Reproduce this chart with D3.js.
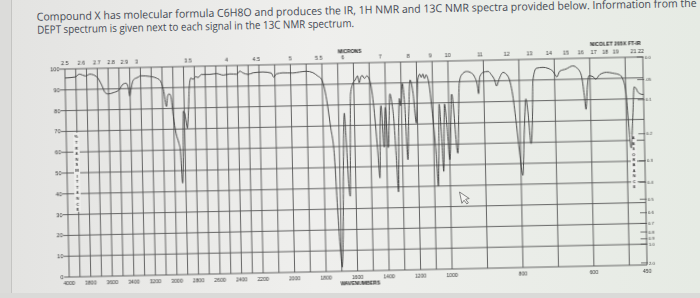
<!DOCTYPE html>
<html>
<head>
<meta charset="utf-8">
<script src="https://cdn.jsdelivr.net/npm/d3@7"></script>
<style>
  html, body { margin: 0; padding: 0; background: #e9e9e7; }
  svg { display: block; }
</style>
</head>
<body>
<svg id="chart"></svg>
<script>
// IR spectrum (wavenumber cm-1, %T)
var wavenumbers = [4000, 3907, 3867, 3809, 3769, 3707, 3661, 3630, 3605, 3553, 3503, 3460, 3435, 3414, 3404, 3392, 3367, 3321, 3300,
  3213, 3151, 3120, 3090, 3065, 3053, 3037, 3022, 3003, 2982, 2957, 2945, 2929, 2917, 2911, 2898, 2883, 2874, 2861, 2849, 2833,
  2812, 2787, 2766, 2735, 2655, 2594, 2532, 2470, 2408, 2377, 2347, 2300, 2254, 2175, 2122, 2107, 2091, 2048, 1985, 1942, 1900,
  1858, 1827, 1806, 1789, 1774, 1753, 1732, 1719, 1706, 1697, 1688, 1675, 1664, 1655, 1645, 1637, 1630, 1622, 1605, 1590, 1575,
  1565, 1555, 1546, 1531, 1516, 1499, 1478, 1457, 1446, 1436, 1430, 1415, 1404, 1389, 1372, 1360, 1351, 1340, 1330, 1320, 1313,
  1305, 1292, 1280, 1266, 1255, 1242, 1225, 1208, 1198, 1193, 1180, 1170, 1160, 1150, 1140, 1124, 1107, 1086, 1076, 1068, 1061,
  1050, 1040, 1033, 1027, 1013, 1000, 991, 977, 969, 962, 948, 934, 925, 918, 915, 911, 901, 887, 878, 868, 864, 856, 845, 831,
  819, 810, 803, 795, 789, 782, 777, 770, 765, 761, 751, 732, 718, 704, 693, 685, 667, 648, 634, 624, 617, 613, 608, 603, 591,
  584, 572, 553, 535, 516, 507, 499, 493, 488, 482, 476, 471, 465, 453, 450];
var transmittance = [95.7, 96.1, 97.4, 96.5, 97.3, 96.0, 91.9, 88.2, 87.6, 88.2, 89.4, 92.3, 92.6, 90.1, 86.4, 89.3, 94.1, 95.4, 96.0,
  95.6, 94.7, 93.6, 89.1, 81.0, 85.8, 87.1, 85.8, 76.2, 68.2, 63.3, 60.1, 44.0, 60.0, 78.5, 77.7, 72.9, 70.4, 79.2, 90.4, 94.4,
  93.8, 95.0, 94.6, 96.0, 96.0, 96.3, 95.5, 96.0, 95.8, 97.2, 96.3, 95.6, 96.3, 96.6, 96.0, 94.0, 95.5, 96.0, 95.8, 96.2, 96.5,
  95.8, 94.1, 92.8, 89.0, 82.5, 69.7, 55.2, 30, 10, 2, 15, 55, 76, 62, 42,
  36, 60, 85, 90.3, 91.8, 93.8,
  90.5, 93, 94, 92.5, 93.7, 91.7, 80.5, 58, 44.5, 74.4, 79.2, 59.2, 78.4, 59, 84.8, 80, 73, 55, 37.6, 70, 82.5,
  79, 89.7, 80, 53, 75, 91.3, 85, 70.5, 85, 91.3, 94, 92.4, 94, 91.8, 93.6, 90, 77, 55, 40, 60, 79.4,
  65, 47, 65, 79.4, 68, 52.6, 84, 55.6, 89.2, 93.2, 94.8, 94, 92, 88, 84, 92, 94.2, 94.6, 93, 89.9, 87.5, 91, 94, 92,
  83, 68.5, 55.7, 44.3, 63.6, 81, 74.7, 59.5, 70, 90, 95.6, 96, 95.5, 94, 91.3, 94, 95, 96.4, 95, 91.6, 82, 75.4, 86, 91.5, 91,
  89.8, 92, 93, 92.5, 91.6, 89.4, 82, 66, 56.4, 70, 85.7, 85, 83, 82, 82];

var bottomTicks = [4000, 3800, 3600, 3400, 3200, 3000, 2800, 2600, 2400, 2200, 2000, 1800, 1600, 1400, 1200, 1000, 800, 600, 450];
var micronTicks = [2.5, 2.6, 2.7, 2.8, 2.9, 3, 3.5, 4, 4.5, 5, 5.5, 6, 7, 8, 9, 10, 11, 12, 13, 14, 15, 16, 17, 18, 19, 21, 22];
var percentTicks = [0, 10, 20, 30, 40, 50, 60, 70, 80, 90, 100];
var absorbanceTicks = [0, 0.05, 0.1, 0.2, 0.3, 0.4, 0.5, 0.6, 0.7, 0.8, 0.9, 1.0, 2.0];
var absorbanceLabels = ["0.0", ".05", "0.1", "0.2", "0.3", "0.4", "0.5", "0.6", "0.7", "0.8", "0.9", "1.0", "2.0"];

var headerLines = [
  "Compound X has molecular formula C6H8O and produces the IR, 1H NMR and 13C NMR spectra provided below.  Information from the",
  "DEPT spectrum is given next to each signal in the 13C NMR spectrum."
];

var width = 700, height = 298;

var svg = d3.select("#chart")
  .attr("width", width)
  .attr("height", height);

// photo background
var defs = svg.append("defs");
var grad = defs.append("linearGradient").attr("id", "bg").attr("x1", 0).attr("x2", 1).attr("y1", 0).attr("y2", 0);
grad.append("stop").attr("offset", "0").attr("stop-color", "#e3e3e1");
grad.append("stop").attr("offset", "0.45").attr("stop-color", "#efefed");
grad.append("stop").attr("offset", "1").attr("stop-color", "#e6ebe4");
defs.append("filter").attr("id", "soft")
  .append("feGaussianBlur").attr("stdDeviation", 0.3);

svg.append("rect").attr("width", width).attr("height", height).attr("fill", "url(#bg)");
svg.append("rect").attr("width", 11).attr("height", height).attr("fill", "#dcdcda");
svg.append("line").attr("x1", 11.5).attr("x2", 11.5).attr("y1", 0).attr("y2", height)
  .attr("stroke", "#c4c4c2").attr("stroke-width", 1);
svg.append("rect").attr("y", 293).attr("width", width).attr("height", 5).attr("fill", "#dadad8");

// everything in the photo is tilted a little
var page = svg.append("g").attr("transform", "rotate(-1.2,356,167)");

page.selectAll(".header")
  .data(headerLines)
  .enter()
  .append("text")
  .attr("class", "header")
  .attr("x", 40)
  .attr("y", (d, i) => 14 + i * 13)
  .attr("textLength", (d, i) => i == 0 ? 660 : 317)
  .attr("lengthAdjust", "spacingAndGlyphs")
  .attr("font-family", "'Open Sans', sans-serif")
  .attr("font-size", 11)
  .attr("fill", "#474b55")
  .text(d => d);

var x = d3.scaleLinear()
  .domain([4000, 2200, 1000, 450])
  .range([67, 261, 450, 645]);
var y = d3.scaleLinear()
  .domain([0, 100])
  .range([271, 63]);

var chart = page.append("g").attr("filter", "url(#soft)");
var gridColor = "#555";

// vertical grid, one line every 100 cm-1
var vLines = d3.range(4000, 450, -100).concat([450]);
chart.selectAll(".vgrid")
  .data(vLines)
  .enter()
  .append("line")
  .attr("x1", d => x(d)).attr("x2", d => x(d))
  .attr("y1", y(100)).attr("y2", y(0))
  .attr("stroke", gridColor).attr("stroke-width", 0.9);

chart.selectAll(".hgrid")
  .data(percentTicks)
  .enter()
  .append("line")
  .attr("x1", x(4000) - 5).attr("x2", x(450))
  .attr("y1", d => y(d)).attr("y2", d => y(d))
  .attr("stroke", gridColor).attr("stroke-width", 0.9);

var labelFont = "'Liberation Sans', Arial, sans-serif";

chart.selectAll(".ylab")
  .data(percentTicks)
  .enter()
  .append("text")
  .attr("x", 61.5)
  .attr("y", d => y(d) + 2)
  .attr("text-anchor", "end")
  .attr("font-family", labelFont).attr("font-size", 5.6).attr("fill", "#333")
  .text(d => d);

chart.selectAll(".xlab")
  .data(bottomTicks)
  .enter()
  .append("text")
  .attr("x", d => x(d))
  .attr("y", y(0) + 8)
  .attr("text-anchor", "middle")
  .attr("font-family", labelFont).attr("font-size", 5.2).attr("fill", "#333")
  .text(d => d);

chart.selectAll(".mlab")
  .data(micronTicks)
  .enter()
  .append("text")
  .attr("x", d => x(10000 / d))
  .attr("y", y(100) - 3.5)
  .attr("text-anchor", "middle")
  .attr("font-family", labelFont).attr("font-size", 5.4).attr("fill", "#333")
  .text(d => d);

// absorbance scale on the right
var absT = absorbanceTicks.map(a => 100 * Math.pow(10, -a));
chart.selectAll(".atick")
  .data(absT)
  .enter()
  .append("line")
  .attr("x1", x(450) - 6).attr("x2", x(450) + 1)
  .attr("y1", d => y(d)).attr("y2", d => y(d))
  .attr("stroke", gridColor).attr("stroke-width", 0.8);
chart.selectAll(".alab")
  .data(absT)
  .enter()
  .append("text")
  .attr("x", x(450) + 2)
  .attr("y", d => y(d) + 1.6)
  .attr("font-family", labelFont).attr("font-size", 4.2).attr("fill", "#333")
  .text((d, i) => absorbanceLabels[i]);

// stacked axis titles
function stacked(word, cx, top, step) {
  var letters = word.split("");
  chart.append("rect")
    .attr("x", cx - 3).attr("y", top - 4)
    .attr("width", 6).attr("height", step * (letters.length - 1) + 6)
    .attr("fill", "#eeeeec");
  chart.selectAll(null)
    .data(letters)
    .enter()
    .append("text")
    .attr("x", cx)
    .attr("y", (d, i) => top + i * step + 1.5)
    .attr("text-anchor", "middle")
    .attr("font-family", labelFont).attr("font-size", 4.2).attr("font-weight", "bold").attr("fill", "#333")
    .text(d => d);
}
stacked("%TRANSMITTANCE", 77, 131, 5.6);
stacked("ABSORBANCE", 634, 144, 5.4);

chart.append("text")
  .attr("x", 352).attr("y", 53)
  .attr("text-anchor", "middle")
  .attr("font-family", labelFont).attr("font-size", 5).attr("font-weight", "bold").attr("fill", "#222")
  .text("MICRONS");
chart.append("text")
  .attr("x", 358).attr("y", 285)
  .attr("text-anchor", "middle")
  .attr("font-family", labelFont).attr("font-size", 5).attr("font-weight", "bold").attr("fill", "#222")
  .text("WAVENUMBERS");
chart.append("text")
  .attr("x", 618).attr("y", 51.5)
  .attr("text-anchor", "middle")
  .attr("font-family", labelFont).attr("font-size", 5.2).attr("font-weight", "bold").attr("fill", "#222")
  .text("NICOLET 205X FT-IR");

// the spectrum trace
var points = wavenumbers.map((w, i) => [w, transmittance[i]]);
var line = d3.line()
  .x(d => x(d[0]))
  .y(d => y(d[1]))
  .curve(d3.curveMonotoneX);
chart.append("path")
  .attr("d", line(points))
  .attr("fill", "none")
  .attr("stroke", "#3a3a3a")
  .attr("stroke-width", 0.9);

// mouse pointer visible in the photo
svg.append("path")
  .attr("transform", "translate(459.5,192) rotate(-12) scale(1.05)")
  .attr("d", "M0,0 L0,11 L2.6,8.6 L4.5,12.6 L6.1,11.9 L4.3,8 L7.8,8 Z")
  .attr("fill", "#f4f4f2")
  .attr("stroke", "#666")
  .attr("stroke-width", 0.7);
</script>
</body>
</html>
